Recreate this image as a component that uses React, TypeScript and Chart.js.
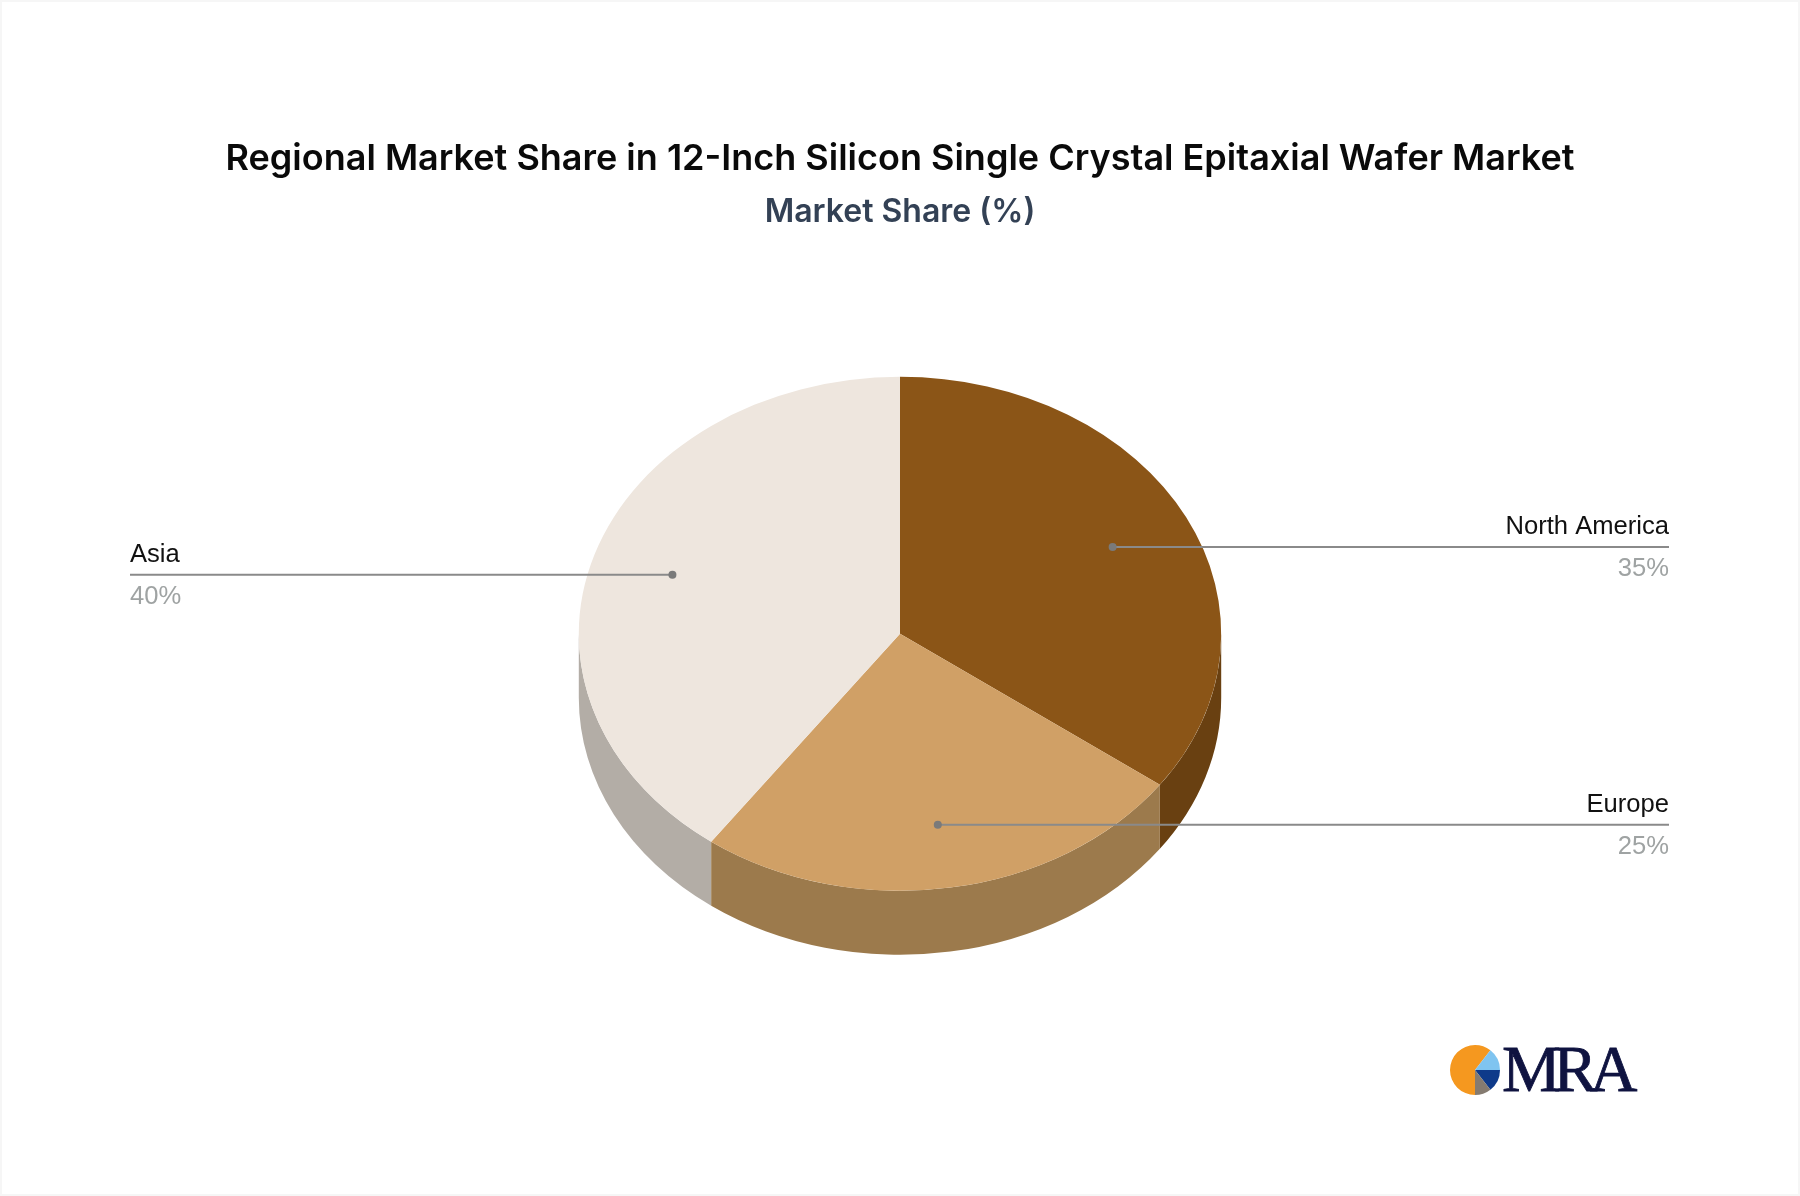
import React, {useEffect, useRef} from 'react'
import {Chart, registerables} from 'chart.js'

Chart.register(...registerables)

const regions = ['North America', 'Europe', 'Asia']
const shares = [35, 25, 40]
const topColors = ['#8B5517', '#D0A066', '#EEE6DE']
const wallColors = ['#694011', '#9C7A4C', '#B3ADA6']

const titleText = 'Regional Market Share in 12-Inch Silicon Single Crystal Epitaxial Wafer Market'
const subtitleText = 'Market Share (%)'

// y squash of the pie and height of its side wall
const FLATTEN = 0.8
const DEPTH = 64
// how far out along the radius each leader line starts
const anchors = [0.743, 0.752, 0.745]

// logo wedges, degrees clockwise from 3 o'clock
const logoWedges = [
  {from: 0, to: 52, color: '#0E3A8A'},
  {from: 52, to: 90, color: '#857B70'},
  {from: 90, to: 308, color: '#F5981F'},
  {from: 308, to: 360, color: '#7FC4F0'},
]

const flatPie = {
  id: 'flatPie',
  beforeDatasetsDraw(chart: any) {
    const arcs = chart.getDatasetMeta(0).data
    const {ctx} = chart
    const {x, y, outerRadius} = arcs[0].getProps(['x', 'y', 'outerRadius'], true)
    const ry = outerRadius * FLATTEN

    // side walls, back to front so Europe sits over its neighbours
    ;[0, 2, 1].forEach((i) => {
      const {startAngle, endAngle} = arcs[i].getProps(['startAngle', 'endAngle'], true)
      const a0 = Math.max(startAngle, 0)
      const a1 = Math.min(endAngle, Math.PI)
      if (a1 <= a0) {
        return
      }
      ctx.beginPath()
      ctx.ellipse(x, y, outerRadius, ry, 0, a0, a1)
      ctx.ellipse(x, y + DEPTH, outerRadius, ry, 0, a1, a0, true)
      ctx.closePath()
      ctx.fillStyle = wallColors[i]
      ctx.fill()
    })

    ctx.save()
    ctx.translate(x, y)
    ctx.scale(1, FLATTEN)
    ctx.translate(-x, -y)
  },
  afterDatasetsDraw(chart: any) {
    chart.ctx.restore()
  },
}

const callouts = {
  id: 'callouts',
  afterDraw(chart: any) {
    const {ctx} = chart
    const arcs = chart.getDatasetMeta(0).data
    const lineEnds = [1669, 1669, 130]

    arcs.forEach((arc: any, i: number) => {
      const {x, y, startAngle, endAngle, outerRadius} = arc.getProps(
        ['x', 'y', 'startAngle', 'endAngle', 'outerRadius'],
        true
      )
      const mid = (startAngle + endAngle) / 2
      const px = x + Math.cos(mid) * outerRadius * anchors[i]
      const py = y + Math.sin(mid) * outerRadius * anchors[i] * FLATTEN
      const end = lineEnds[i]

      ctx.strokeStyle = '#8A8A8A'
      ctx.lineWidth = 2
      ctx.beginPath()
      ctx.moveTo(px, py)
      ctx.lineTo(end, py)
      ctx.stroke()

      ctx.fillStyle = '#7A7A7A'
      ctx.beginPath()
      ctx.arc(px, py, 4, 0, Math.PI * 2)
      ctx.fill()

      ctx.textAlign = end > px ? 'right' : 'left'
      ctx.textBaseline = 'alphabetic'
      ctx.font = '25.6px "Liberation Sans"'
      ctx.fillStyle = '#111111'
      ctx.fillText(regions[i], end, py - 13)
      ctx.fillStyle = '#9FA3A3'
      ctx.fillText(`${shares[i]}%`, end, py + 29)
    })
  },
}

const logo = {
  id: 'logo',
  afterDraw(chart: any) {
    const {ctx} = chart
    const cx = 1475
    const cy = 1070
    logoWedges.forEach((w) => {
      ctx.beginPath()
      ctx.moveTo(cx, cy)
      ctx.arc(cx, cy, 25, (w.from * Math.PI) / 180, (w.to * Math.PI) / 180)
      ctx.closePath()
      ctx.fillStyle = w.color
      ctx.fill()
    })
    ctx.save()
    ctx.font = '66px "Liberation Serif"'
    ctx.letterSpacing = '-7.5px'
    ctx.textAlign = 'left'
    ctx.textBaseline = 'alphabetic'
    ctx.fillStyle = '#0F1340'
    ctx.strokeStyle = '#0F1340'
    ctx.lineWidth = 0.8
    ctx.fillText('MRA', 1502, 1091)
    ctx.strokeText('MRA', 1502, 1091)
    ctx.restore()
  },
}

const App: React.FC = () => {
  const chartRef = useRef<HTMLCanvasElement | null>(null)

  useEffect(() => {
    if (!chartRef.current) {
      return
    }
    document.body.style.margin = '0'

    const chart = new Chart(chartRef.current, {
      type: 'pie',
      data: {
        labels: regions,
        datasets: [
          {
            data: shares,
            backgroundColor: topColors,
            borderWidth: 0,
          },
        ],
      },
      options: {
        responsive: false,
        animation: false,
        layout: {padding: {top: 0, bottom: 241}},
        plugins: {
          legend: {display: false},
          tooltip: {enabled: false},
          title: {
            display: true,
            text: titleText,
            color: '#0A0A0A',
            font: {family: 'Inter', size: 36, weight: 600},
            padding: {top: 138, bottom: 12},
          },
          subtitle: {
            display: true,
            text: subtitleText,
            color: '#334155',
            font: {family: 'Inter', size: 32, weight: 600},
            padding: {top: 0, bottom: 81},
          },
        },
      },
      plugins: [flatPie, callouts, logo],
    })

    return () => chart.destroy()
  }, [])

  return (
    <canvas
      ref={chartRef}
      width={1800}
      height={1196}
      style={{display: 'block', outline: '2px solid #F6F6F6', outlineOffset: '-2px'}}
    ></canvas>
  )
}

export default App
